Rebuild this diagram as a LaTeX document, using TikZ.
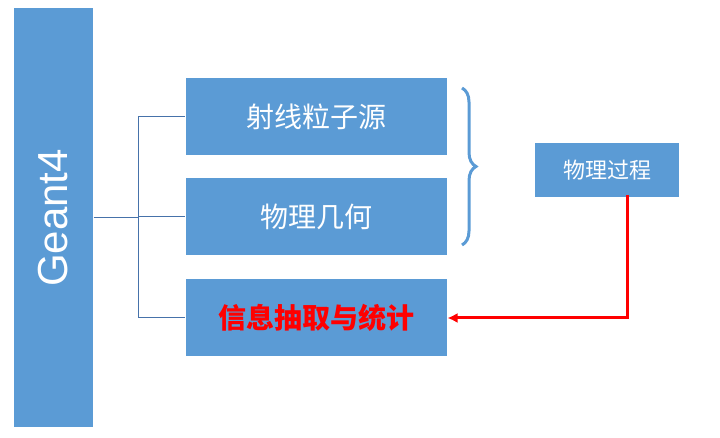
\documentclass[tikz,border=0pt]{standalone}
\usepackage{fontspec}
\setmainfont{Liberation Sans}
\newfontfamily\cjk{Noto Sans CJK SC}
\usetikzlibrary{decorations.pathreplacing,arrows.meta}
\definecolor{boxblue}{RGB}{91,155,213}
\definecolor{linec}{RGB}{70,114,170}
\tikzset{
  bluebox/.style={fill=boxblue, draw=white, line width=1pt, inner sep=0pt},
  conn/.style={draw=linec, line width=1pt},
}
\begin{document}
\begin{tikzpicture}[x=1pt,y=1pt]
\useasboundingbox (0,0) rectangle (720,438);
\node[bluebox, minimum width=80pt, minimum height=420pt, text=white] (g) at (53,220) {\rotatebox{90}{\fontsize{42}{42}\selectfont Geant4}};
\node[bluebox, minimum width=262pt, minimum height=78pt, text=white] (a) at (316,321) {\cjk\fontsize{28}{28}\selectfont 射线粒子源};
\node[bluebox, minimum width=262pt, minimum height=78pt, text=white] (b) at (316,221) {\cjk\fontsize{28}{28}\selectfont 物理几何};
\node[bluebox, minimum width=262pt, minimum height=78pt, text=red] (c) at (316,120) {\cjk\bfseries\fontsize{28}{28}\selectfont 信息抽取与统计};
\node[bluebox, minimum width=145pt, minimum height=55pt, text=white] (p) at (607,268) {\cjk\fontsize{22}{22}\selectfont 物理过程};
\coordinate (j) at (138,220);
\draw[conn] (g.east |- j) -- (j);
\draw[conn] (j |- a) -- (j |- c);
\draw[conn] (j |- a) -- (a.west);
\draw[conn] (j |- b) -- (b.west);
\draw[conn] (j |- c) -- (c.west);
\coordinate (bt) at (462,350);
\coordinate (bb) at (462,193);
\draw[draw=boxblue, line width=3pt, decorate, decoration={brace, amplitude=14pt}] (bt) -- (bb);
\draw[red, line width=3pt, -{Latex[length=10pt,width=10pt]}] (627,243) |- (c.east);
\end{tikzpicture}
\end{document}
